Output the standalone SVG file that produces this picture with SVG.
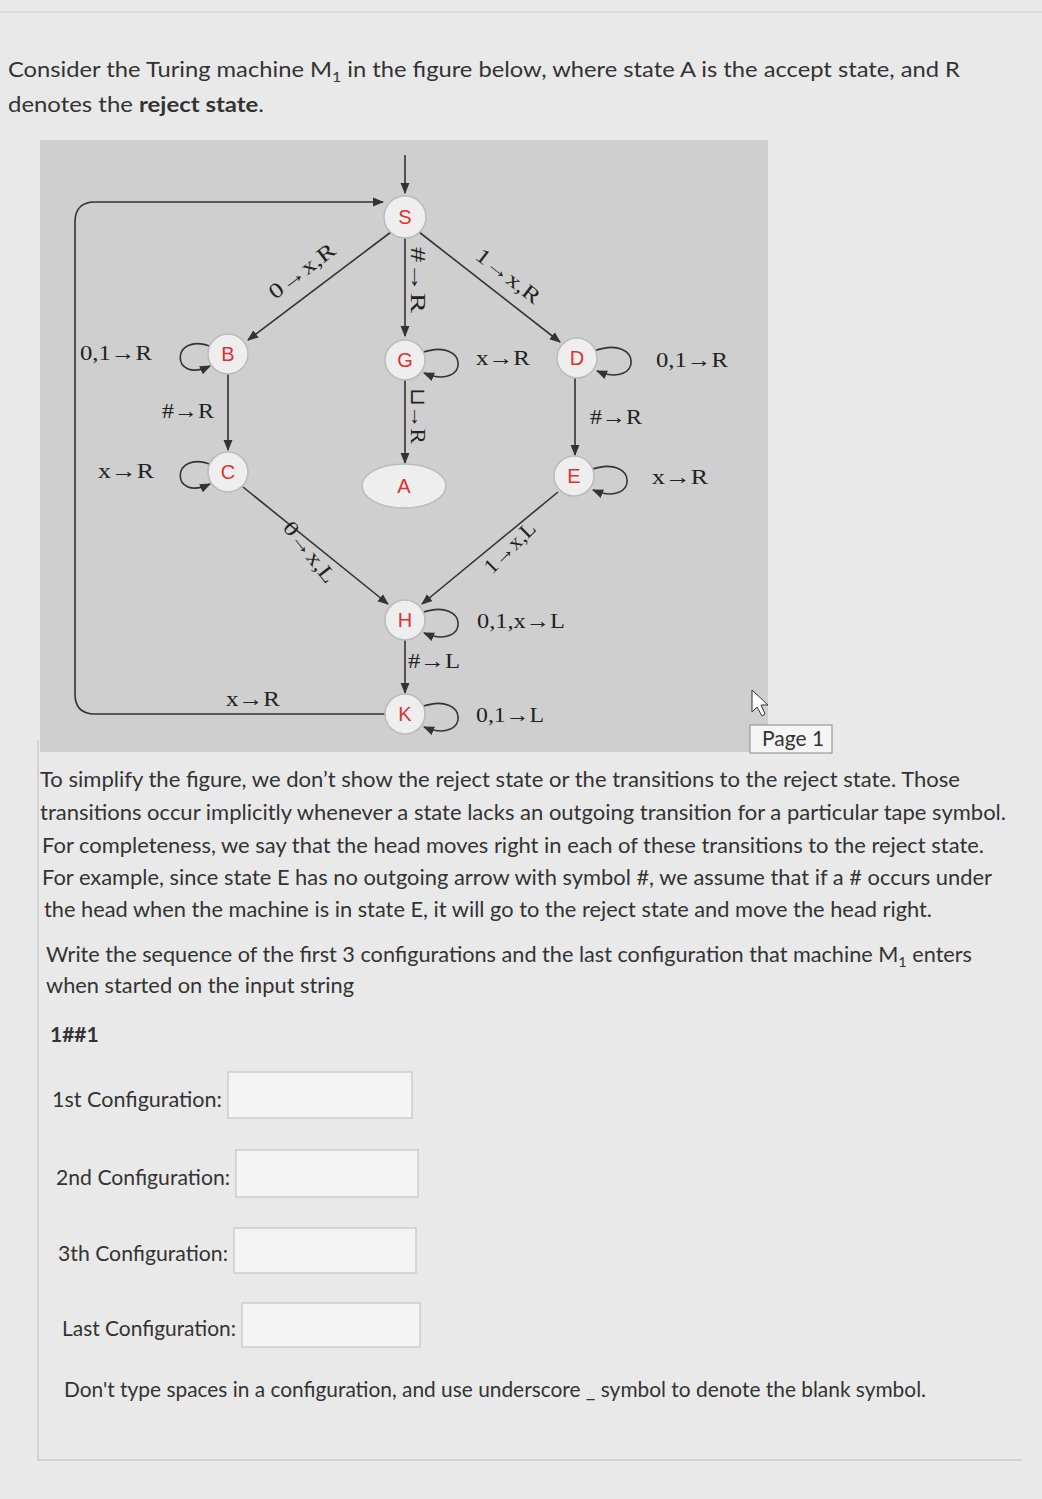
<svg xmlns="http://www.w3.org/2000/svg" width="1042" height="1499" viewBox="0 0 1042 1499">
<style>
.t{font-family:"Lato","Liberation Sans",sans-serif;fill:#333;font-size:21px}
.st{fill:#eee;stroke:#bbb;stroke-width:1.5}
.sl{font-family:"Liberation Sans",sans-serif;fill:#e03030;font-size:20px;text-anchor:middle}
.e{stroke:#333;stroke-width:1.6;fill:none}
.lb{font-family:"Liberation Serif",serif;fill:#222;font-size:21px}
.box{fill:#f4f4f4;stroke:#ccc;stroke-width:1.5}
</style>
<defs><marker id="a" viewBox="0 0 10 10" refX="9" refY="5" markerWidth="7" markerHeight="7" orient="auto"><path d="M0,1 L10,5 L0,9 z" fill="#333"/></marker></defs>
<rect width="1042" height="1499" fill="#e9e9e9"/>
<line x1="0" y1="12" x2="1042" y2="12" stroke="#ccc"/>
<path d="M38,740 V1460 H1022" fill="none" stroke="#ccc" stroke-width="1.5"/>
<text class="t" x="8" y="77" textLength="952" lengthAdjust="spacingAndGlyphs">Consider the Turing machine M<tspan font-size="14" dy="5">1</tspan><tspan dy="-5"> in the figure below, where state A is the accept state, and R</tspan></text>
<text class="t" x="8" y="112" textLength="256" lengthAdjust="spacingAndGlyphs">denotes the <tspan font-weight="bold">reject state</tspan>.</text>
<rect x="40" y="140" width="728" height="612" fill="#cfcfcf"/>
<g id="connectors">
<path class="e" d="M405,155 V193" marker-end="url(#a)"/>
<path class="e" d="M385,714 H95 Q75,714 75,694 V222 Q75,202 95,202 H383" marker-end="url(#a)"/>
<path class="e" d="M391,232 L248,340" marker-end="url(#a)"/>
<path class="e" d="M419,232 L560,342" marker-end="url(#a)"/>
<path class="e" d="M405,237 V336" marker-end="url(#a)"/>
<path class="e" d="M405,380 V463" marker-end="url(#a)"/>
<path class="e" d="M228,374 V450" marker-end="url(#a)"/>
<path class="e" d="M575,378 V455" marker-end="url(#a)"/>
<path class="e" d="M243,487 L388,604" marker-end="url(#a)"/>
<path class="e" d="M558,492 L422,604" marker-end="url(#a)"/>
<path class="e" d="M405,640 V693" marker-end="url(#a)"/>
<path class="e" d="M212,347 C170,330 170,385 210,366" marker-end="url(#a)"/>
<path class="e" d="M212,465 C170,448 170,503 210,484" marker-end="url(#a)"/>
<path class="e" d="M421,353 C470,335 470,392 424,373" marker-end="url(#a)"/>
<path class="e" d="M594,351 C643,333 643,390 597,371" marker-end="url(#a)"/>
<path class="e" d="M590,470 C639,452 639,509 593,490" marker-end="url(#a)"/>
<path class="e" d="M421,613 C470,595 470,652 424,633" marker-end="url(#a)"/>
<path class="e" d="M421,707 C470,689 470,746 424,727" marker-end="url(#a)"/>
</g>
<g id="labels">
<text class="lb" x="80" y="360" textLength="72" lengthAdjust="spacingAndGlyphs">0,1→R</text>
<text class="lb" x="162" y="418" textLength="52" lengthAdjust="spacingAndGlyphs">#→R</text>
<text class="lb" x="98" y="478" textLength="56" lengthAdjust="spacingAndGlyphs">x→R</text>
<text class="lb" x="476" y="365" textLength="54" lengthAdjust="spacingAndGlyphs">x→R</text>
<text class="lb" x="656" y="367" textLength="72" lengthAdjust="spacingAndGlyphs">0,1→R</text>
<text class="lb" x="590" y="424" textLength="52" lengthAdjust="spacingAndGlyphs">#→R</text>
<text class="lb" x="652" y="484" textLength="56" lengthAdjust="spacingAndGlyphs">x→R</text>
<text class="lb" x="477" y="628" textLength="88" lengthAdjust="spacingAndGlyphs">0,1,x→L</text>
<text class="lb" x="408" y="668" textLength="52" lengthAdjust="spacingAndGlyphs">#→L</text>
<text class="lb" x="226" y="706" textLength="54" lengthAdjust="spacingAndGlyphs">x→R</text>
<text class="lb" x="476" y="722" textLength="68" lengthAdjust="spacingAndGlyphs">0,1→L</text>
<text class="lb" transform="translate(275,300) rotate(-37)" textLength="78" lengthAdjust="spacingAndGlyphs">0→x,R</text>
<text class="lb" transform="translate(474,258) rotate(38)" textLength="76" lengthAdjust="spacingAndGlyphs">1→x,R</text>
<text class="lb" transform="translate(411,247) rotate(90)" textLength="66" lengthAdjust="spacingAndGlyphs">#→R</text>
<text class="lb" transform="translate(411,388) rotate(90)" textLength="56" lengthAdjust="spacingAndGlyphs">⊔→R</text>
<text class="lb" transform="translate(282,528) rotate(52)" textLength="72" lengthAdjust="spacingAndGlyphs">0→x,L</text>
<text class="lb" transform="translate(492,575) rotate(-45)" textLength="64" lengthAdjust="spacingAndGlyphs">1→x,L</text>
</g>
<g id="S"><circle class="st" cx="405" cy="217" r="21"/><text class="sl" x="405" y="224">S</text></g>
<g id="B"><circle class="st" cx="228" cy="354" r="20"/><text class="sl" x="228" y="361">B</text></g>
<g id="G"><circle class="st" cx="405" cy="360" r="20"/><text class="sl" x="405" y="367">G</text></g>
<g id="D"><circle class="st" cx="577" cy="358" r="20"/><text class="sl" x="577" y="365">D</text></g>
<g id="C"><circle class="st" cx="228" cy="472" r="20"/><text class="sl" x="228" y="479">C</text></g>
<g id="A"><ellipse class="st" cx="404" cy="486" rx="42" ry="22"/><text class="sl" x="404" y="493">A</text></g>
<g id="E"><circle class="st" cx="574" cy="476" r="20"/><text class="sl" x="574" y="483">E</text></g>
<g id="H"><circle class="st" cx="405" cy="620" r="20"/><text class="sl" x="405" y="627">H</text></g>
<g id="K"><circle class="st" cx="405" cy="714" r="20"/><text class="sl" x="405" y="721">K</text></g>
<path d="M752,690 L752,712 L757,707 L762,716 L765,714 L761,705 L768,705 Z" fill="#fff" stroke="#333" stroke-width="1"/>
<rect x="750" y="725" width="82" height="28" fill="#f5f5f5" stroke="#888"/>
<text class="t" x="762" y="746" font-size="20">Page 1</text>
<text class="t" x="40" y="787" textLength="920" lengthAdjust="spacingAndGlyphs">To simplify the figure, we don’t show the reject state or the transitions to the reject state. Those</text>
<text class="t" x="40" y="820" textLength="966" lengthAdjust="spacingAndGlyphs">transitions occur implicitly whenever a state lacks an outgoing transition for a particular tape symbol.</text>
<text class="t" x="42" y="853" textLength="942" lengthAdjust="spacingAndGlyphs">For completeness, we say that the head moves right in each of these transitions to the reject state.</text>
<text class="t" x="42" y="885" textLength="950" lengthAdjust="spacingAndGlyphs">For example, since state E has no outgoing arrow with symbol #, we assume that if a # occurs under</text>
<text class="t" x="44" y="917" textLength="888" lengthAdjust="spacingAndGlyphs">the head when the machine is in state E, it will go to the reject state and move the head right.</text>
<text class="t" x="46" y="962" textLength="926" lengthAdjust="spacingAndGlyphs">Write the sequence of the first 3 configurations and the last configuration that machine M<tspan font-size="14" dy="5">1</tspan><tspan dy="-5"> enters</tspan></text>
<text class="t" x="46" y="993" textLength="308" lengthAdjust="spacingAndGlyphs">when started on the input string</text>
<text class="t" x="50" y="1042" font-weight="bold">1##1</text>
<text class="t" x="52" y="1107" textLength="170" lengthAdjust="spacingAndGlyphs">1st Configuration:</text>
<rect class="box" x="228" y="1072" width="184" height="46"/>
<text class="t" x="56" y="1185" textLength="174" lengthAdjust="spacingAndGlyphs">2nd Configuration:</text>
<rect class="box" x="236" y="1150" width="182" height="47"/>
<text class="t" x="58" y="1261" textLength="170" lengthAdjust="spacingAndGlyphs">3th Configuration:</text>
<rect class="box" x="234" y="1228" width="182" height="45"/>
<text class="t" x="62" y="1336" textLength="174" lengthAdjust="spacingAndGlyphs">Last Configuration:</text>
<rect class="box" x="242" y="1303" width="178" height="44"/>
<text class="t" x="64" y="1397" textLength="862" lengthAdjust="spacingAndGlyphs">Don't type spaces in a configuration, and  use underscore _ symbol to denote the blank symbol.</text>
</svg>
